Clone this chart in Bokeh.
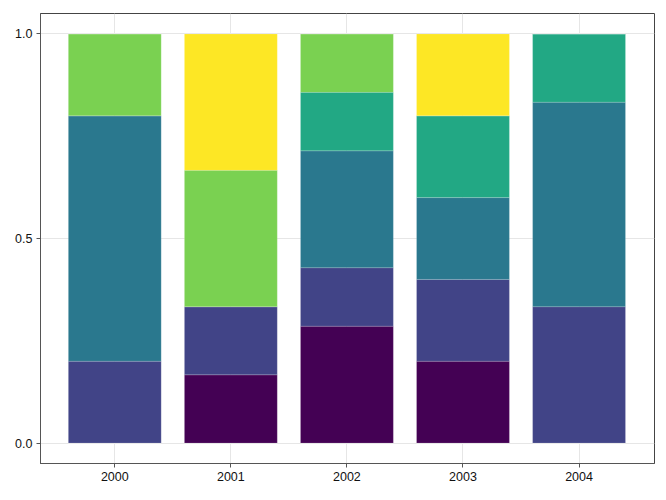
from bokeh.plotting import figure
from bokeh.models import ColumnDataSource, FixedTicker, Range1d
from bokeh.embed import file_html
from bokeh.resources import INLINE

years = [2000, 2001, 2002, 2003, 2004]
year_labels = ["2000", "2001", "2002", "2003", "2004"]
cat1 = [0.0, 0.1667, 0.2857, 0.2, 0.0]
cat2 = [0.2, 0.1667, 0.1429, 0.2, 0.3333]
cat3 = [0.6, 0.0, 0.2857, 0.2, 0.5]
cat4 = [0.0, 0.0, 0.1429, 0.2, 0.1667]
cat5 = [0.2, 0.3333, 0.1429, 0.0, 0.0]
cat6 = [0.0, 0.3333, 0.0, 0.2, 0.0]
colors = ["#440154", "#414487", "#2A788E", "#22A884", "#7AD151", "#FDE725"]
y_ticks = [0.0, 0.5, 1.0]

keys = ["c1", "c2", "c3", "c4", "c5", "c6"]
source = ColumnDataSource(dict(x=years, c1=cat1, c2=cat2, c3=cat3, c4=cat4, c5=cat5, c6=cat6))

p = figure(width=660, height=492, output_backend="svg", toolbar_location=None,
           x_range=Range1d(1999.36, 2004.65), y_range=Range1d(-0.05, 1.05))
p.min_border_left = 40
p.min_border_top = 13
p.min_border_right = 6
p.min_border_bottom = 29

p.vbar_stack(keys, x="x", width=0.8, color=colors, source=source,
             line_color="white", line_alpha=0.25, line_width=0.6)

p.xaxis.ticker = FixedTicker(ticks=years)
p.xaxis.major_label_overrides = {y: l for y, l in zip(years, year_labels)}
p.yaxis.ticker = FixedTicker(ticks=y_ticks)
p.yaxis.major_label_overrides = {0.0: "0.0", 0.5: "0.5", 1.0: "1.0"}

for ax in (p.xaxis, p.yaxis):
    ax.axis_line_color = "#555555"
    ax.axis_line_width = 1
    ax.major_tick_line_color = "#555555"
    ax.major_tick_out = 4
    ax.major_tick_in = 0
    ax.minor_tick_line_color = None
    ax.major_label_text_font = "Liberation Sans"
    ax.major_label_text_font_size = "12.5px"
    ax.major_label_text_color = "#111111"
    ax.major_label_standoff = 4

p.outline_line_color = "#444444"
p.outline_line_width = 1
p.outline_line_alpha = 1
p.xgrid.grid_line_color = "#e6e6e6"
p.ygrid.grid_line_color = "#e6e6e6"
p.background_fill_color = "white"
p.border_fill_color = "white"

open("out.html", "w").write(file_html(p, INLINE))
